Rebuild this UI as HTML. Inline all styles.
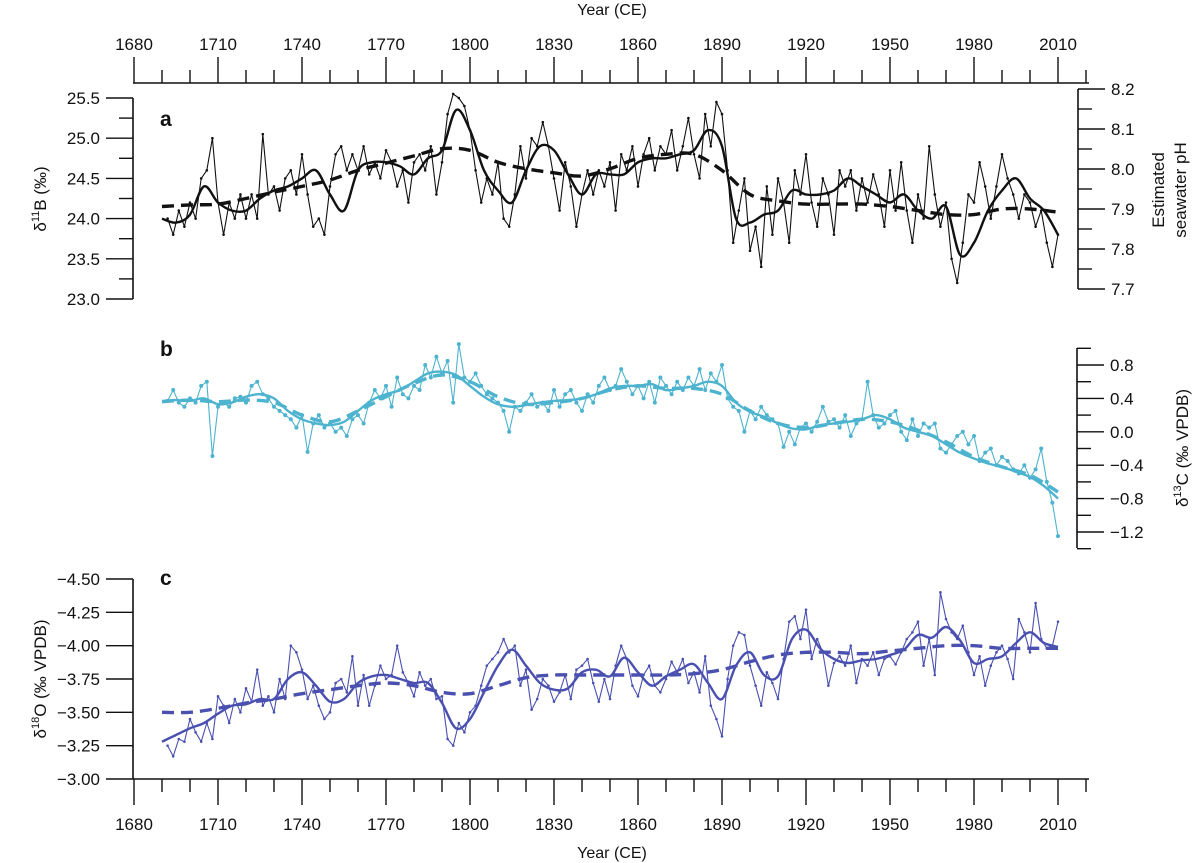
<!DOCTYPE html>
<html><head><meta charset="utf-8"><style>
html,body{margin:0;padding:0;background:#fff}
svg{display:block;font-family:"Liberation Sans",Arial,sans-serif}
</style></head><body>
<svg id="chart" width="1200" height="863" viewBox="0 0 1200 863" xmlns="http://www.w3.org/2000/svg"></svg>
<script>
// ---- data ----
const rawStartYear = 1692;
const rawStepYears = 2;
const smoothStartYear = 1690;
const smoothStepYears = 5;
const trendStartYear = 1690;
const trendStepYears = 10;
const xTickYears = [1680,1710,1740,1770,1800,1830,1860,1890,1920,1950,1980,2010];

const boronRaw = [24.0,23.8,24.1,23.9,24.2,24.0,24.5,24.6,25.0,24.2,23.8,24.2,24.0,24.3,24.0,24.3,24.0,25.05,24.3,24.4,24.1,24.5,24.6,24.3,24.8,24.3,23.9,24.0,23.8,24.4,24.8,24.9,24.6,24.8,24.6,24.9,24.55,24.7,24.5,24.85,24.7,24.4,24.6,24.2,24.7,24.8,24.6,24.9,24.3,24.7,25.3,25.55,25.5,25.4,25.1,24.6,24.2,24.5,24.3,24.7,24.0,23.9,24.3,24.9,24.5,25.0,24.9,25.2,24.9,24.5,24.1,24.7,24.4,23.9,24.3,24.6,24.3,24.6,24.4,24.7,24.1,24.8,24.6,24.9,24.4,24.8,25.0,24.6,24.9,24.8,25.1,24.6,24.9,25.25,24.8,24.5,25.3,24.9,25.45,25.3,24.6,23.7,24.1,24.5,23.6,23.9,23.4,24.4,23.8,24.5,24.2,23.7,24.6,24.3,24.8,24.2,23.9,24.5,24.3,23.8,24.6,24.4,24.6,24.1,24.5,24.2,24.55,24.3,23.9,24.6,24.1,24.7,24.1,23.7,24.3,24.0,24.9,24.3,23.9,24.2,23.5,23.2,23.7,24.3,24.2,24.7,24.4,24.0,24.4,24.8,24.5,24.3,24.0,24.3,24.2,23.9,24.1,23.7,23.4,23.8];
const boronSmooth = [24.0,23.95,24.05,24.4,24.2,24.1,24.1,24.25,24.35,24.4,24.5,24.6,24.3,24.1,24.6,24.7,24.7,24.65,24.55,24.75,24.85,25.35,25.1,24.6,24.35,24.2,24.6,24.9,24.85,24.55,24.3,24.55,24.55,24.55,24.7,24.75,24.75,24.8,24.85,25.1,24.9,24.0,23.95,24.05,24.1,24.35,24.3,24.3,24.35,24.5,24.4,24.3,24.2,24.3,24.1,24.0,24.15,23.55,23.7,24.1,24.35,24.5,24.25,24.1,23.8];
const boronTrend = [24.15,24.17,24.18,24.25,24.33,24.4,24.48,24.6,24.69,24.78,24.87,24.85,24.7,24.62,24.57,24.53,24.62,24.75,24.8,24.8,24.6,24.3,24.22,24.18,24.18,24.18,24.15,24.1,24.05,24.05,24.12,24.12,24.08];

const carbonRaw = [0.37,0.5,0.35,0.3,0.4,0.35,0.55,0.6,-0.29,0.3,
0.35,0.3,0.4,0.42,0.35,0.55,0.6,0.45,0.4,0.3,
0.25,0.2,0.15,0.05,0.2,-0.24,0.1,0.2,0.05,0.1,
0.0,0.05,-0.05,0.15,0.2,0.1,0.35,0.5,0.4,0.55,
0.3,0.65,0.45,0.4,0.55,0.5,0.8,0.65,0.9,0.7,
0.85,0.35,1.05,0.65,0.6,0.7,0.55,0.45,0.4,0.35,
0.25,0.0,0.3,0.25,0.35,0.45,0.3,0.35,0.25,0.5,
0.3,0.45,0.5,0.35,0.25,0.45,0.35,0.55,0.65,0.5,
0.55,0.75,0.6,0.45,0.55,0.4,0.6,0.35,0.65,0.55,
0.45,0.6,0.5,0.65,0.55,0.75,0.5,0.7,0.6,0.8,
0.4,0.3,0.25,0.0,0.25,0.15,0.3,0.2,0.15,0.1,
-0.18,0.0,-0.15,0.05,0.1,0.0,0.12,0.3,0.12,0.15,
0.05,0.2,-0.05,0.1,0.15,0.6,0.2,0.05,0.1,0.2,
0.25,0.0,-0.1,0.15,-0.05,0.1,0.05,0.1,-0.2,-0.25,
-0.15,-0.05,0.0,-0.15,-0.05,-0.35,-0.25,-0.2,-0.4,-0.3,
-0.35,-0.45,-0.5,-0.4,-0.55,-0.45,-0.2,-0.6,-0.85,-1.25];
const carbonSmooth = [0.37,0.38,0.37,0.4,0.33,0.35,0.42,0.45,0.4,0.25,0.15,0.1,0.08,0.12,0.25,0.38,0.45,0.5,0.6,0.7,0.72,0.68,0.55,0.42,0.33,0.3,0.32,0.35,0.37,0.38,0.4,0.45,0.52,0.55,0.55,0.57,0.5,0.52,0.55,0.6,0.55,0.35,0.24,0.18,0.1,0.04,0.03,0.08,0.1,0.12,0.15,0.2,0.15,0.05,0.0,-0.05,-0.15,-0.25,-0.32,-0.38,-0.42,-0.48,-0.54,-0.65,-0.8];
const carbonTrend = [0.36,0.38,0.36,0.38,0.35,0.2,0.12,0.25,0.42,0.58,0.68,0.6,0.42,0.33,0.35,0.4,0.5,0.55,0.52,0.52,0.45,0.25,0.1,0.05,0.1,0.15,0.12,0.02,-0.12,-0.3,-0.42,-0.52,-0.72];

const oxygenRaw = [-3.25,-3.17,-3.3,-3.28,-3.45,-3.35,-3.28,-3.42,-3.3,-3.62,
-3.55,-3.42,-3.6,-3.5,-3.68,-3.58,-3.82,-3.55,-3.62,-3.5,
-3.75,-3.6,-4.0,-3.95,-3.82,-3.6,-3.7,-3.55,-3.45,-3.5,
-3.72,-3.75,-3.65,-3.92,-3.55,-3.78,-3.55,-3.7,-3.85,-3.75,
-3.78,-4.0,-3.8,-3.72,-3.62,-3.8,-3.7,-3.75,-3.6,-3.62,
-3.3,-3.25,-3.42,-3.35,-3.5,-3.55,-3.7,-3.85,-3.9,-3.95,
-4.05,-3.95,-4.0,-3.7,-3.82,-3.52,-3.6,-3.75,-3.7,-3.58,
-3.65,-3.78,-3.6,-3.82,-3.85,-3.9,-3.72,-3.58,-3.75,-3.6,
-3.85,-4.0,-3.9,-3.7,-3.62,-3.78,-3.85,-3.7,-3.65,-3.75,
-3.88,-3.8,-3.9,-3.72,-3.8,-3.65,-3.92,-3.55,-3.45,-3.32,
-3.75,-4.0,-4.1,-4.08,-3.85,-3.7,-3.55,-3.8,-3.72,-3.6,
-3.9,-4.18,-4.22,-4.05,-4.27,-3.9,-4.05,-3.95,-3.7,-3.87,
-3.92,-3.85,-4.0,-3.72,-3.9,-3.85,-3.95,-3.78,-3.9,-3.92,
-3.86,-3.95,-4.05,-4.1,-4.18,-3.85,-4.05,-3.78,-4.4,-4.2,
-4.1,-4.05,-4.15,-3.95,-3.78,-3.92,-3.7,-3.85,-3.95,-4.0,
-3.9,-3.75,-4.2,-4.1,-3.95,-4.32,-4.05,-3.98,-4.0,-4.18];
const oxygenSmooth = [-3.28,-3.33,-3.38,-3.42,-3.49,-3.55,-3.56,-3.6,-3.6,-3.75,-3.8,-3.7,-3.58,-3.6,-3.72,-3.77,-3.78,-3.75,-3.72,-3.72,-3.57,-3.38,-3.45,-3.65,-3.85,-3.97,-3.85,-3.72,-3.67,-3.68,-3.8,-3.82,-3.77,-3.91,-3.8,-3.7,-3.77,-3.82,-3.86,-3.72,-3.6,-3.85,-3.95,-3.78,-3.77,-4.05,-4.12,-3.98,-3.9,-3.87,-3.89,-3.9,-3.93,-3.97,-4.08,-4.06,-4.14,-4.04,-3.87,-3.9,-3.92,-4.02,-4.1,-4.02,-3.99];
const oxygenTrend = [-3.5,-3.5,-3.53,-3.57,-3.6,-3.64,-3.67,-3.7,-3.72,-3.7,-3.65,-3.64,-3.7,-3.76,-3.78,-3.78,-3.78,-3.78,-3.78,-3.79,-3.82,-3.88,-3.93,-3.95,-3.95,-3.94,-3.96,-3.98,-4.0,-4.0,-3.98,-3.98,-3.98];

const boronTicks = ["23.0","23.5","24.0","24.5","25.0","25.5"];
const phTicks = ["7.7","7.8","7.9","8.0","8.1","8.2"];
const carbonTicks = ["\u22121.2","\u22120.8","\u22120.4","0.0","0.4","0.8"];
const oxygenTicks = ["\u22123.00","\u22123.25","\u22123.50","\u22123.75","\u22124.00","\u22124.25","\u22124.50"];

// ---- scales ----
const NS = "http://www.w3.org/2000/svg";
const svg = document.getElementById('chart');
const X = yr => 134 + (yr - 1680) * 2.8;
const yA = v => 98 + (25.5 - v) * 80.4;
const yPH = v => 89 + (8.2 - v) * 400;
const yB = v => 365 + (0.8 - v) * 83.5;
const yC = v => 579 + (v + 4.5) * 133.33;

function el(tag, attrs, parent) {
  const e = document.createElementNS(NS, tag);
  for (const k in attrs) e.setAttribute(k, attrs[k]);
  (parent || svg).appendChild(e);
  return e;
}
function txt(s, x, y, size, anchor, parent, extra) {
  const t = el('text', Object.assign({x: x, y: y, 'font-size': size, 'text-anchor': anchor, fill: '#111'}, extra || {}), parent);
  t.textContent = s;
  return t;
}

// ---- x axes ----
const gTop = el('g', {});


const gBot = el('g', {});


el('line', {x1: 133, y1: 83, x2: 1089, y2: 83, stroke: '#111', 'stroke-width': 1.6}, gTop);
el('line', {x1: 133, y1: 779, x2: 1089, y2: 779, stroke: '#111', 'stroke-width': 1.6}, gBot);
for (let yr = 1680; yr <= 2020; yr += 10) {
  const major = (yr - 1680) % 30 === 0;
  el('line', {x1: X(yr), y1: 83, x2: X(yr), y2: major ? 57 : 70, stroke: '#111', 'stroke-width': 1.4}, gTop);
  el('line', {x1: X(yr), y1: 779, x2: X(yr), y2: major ? 805 : 792, stroke: '#111', 'stroke-width': 1.4}, gBot);
}
xTickYears.forEach(yr => {
  txt(String(yr), X(yr), 50, 17, 'middle', gTop);
  txt(String(yr), X(yr), 830, 17, 'middle', gBot);
});
const tt = txt('Year (CE)', 612, 15, 16, 'middle', svg);


const bt = txt('Year (CE)', 612, 858, 16, 'middle', svg);



// ---- y axes ----
function yAxis(name, x, top, bottom, ticks, scale, vals, minorVals, dir) {
  const g = el('g', {});
  
  
  el('line', {x1: x, y1: top, x2: x, y2: bottom, stroke: '#111', 'stroke-width': 1.6}, g);
  vals.forEach((v, i) => {
    const y = scale(v);
    el('line', {x1: x, y1: y, x2: x + dir * 27, y2: y, stroke: '#111', 'stroke-width': 1.4}, g);
    txt(ticks[i], x + dir * 33, y + 6, 17, dir < 0 ? 'end' : 'start', g);
  });
  minorVals.forEach(v => {
    const y = scale(v);
    el('line', {x1: x, y1: y, x2: x + dir * 14, y2: y, stroke: '#111', 'stroke-width': 1.4}, g);
  });
}
yAxis('boron-y-axis', 133, 98, 299, boronTicks, yA, [23.0,23.5,24.0,24.5,25.0,25.5], [23.25,23.75,24.25,24.75,25.25], -1);
yAxis('ph-y-axis', 1078, 89, 289, phTicks, yPH, [7.7,7.8,7.9,8.0,8.1,8.2], [7.75,7.85,7.95,8.05,8.15], 1);
yAxis('carbon-y-axis', 1077, 348, 548, carbonTicks, yB, [-1.2,-0.8,-0.4,0.0,0.4,0.8], [-1.4,-1.0,-0.6,-0.2,0.2,0.6,1.0], 1);
yAxis('oxygen-y-axis', 133, 579, 779, oxygenTicks, yC, [-3.0,-3.25,-3.5,-3.75,-4.0,-4.25,-4.5], [], -1);

// axis titles
function rotTitle(name, x, y, parts) {
  const t = el('text', {x: x, y: y, 'font-size': 17, 'text-anchor': 'middle', fill: '#111', transform: 'rotate(-90 ' + x + ' ' + y + ')'});
  
  
  parts.forEach(p => {
    const s = el('tspan', p.sup ? {'font-size': 11, dy: -7} : (p.down ? {dy: 7} : {}), t);
    s.textContent = p.t;
  });
}
rotTitle('boron-y-axis-title', 46, 199, [{t: '\u03b4'}, {t: '11', sup: true}, {t: 'B (\u2030)', down: true}]);
rotTitle('oxygen-y-axis-title', 46, 679, [{t: '\u03b4'}, {t: '18', sup: true}, {t: 'O (\u2030 VPDB)', down: true}]);
rotTitle('carbon-y-axis-title', 1188, 448, [{t: '\u03b4'}, {t: '13', sup: true}, {t: 'C (\u2030 VPDB)', down: true}]);
rotTitle('ph-y-axis-title-line1', 1164, 190, [{t: 'Estimated'}]);
rotTitle('ph-y-axis-title-line2', 1186, 190, [{t: 'seawater pH'}]);

// panel labels
[['a', 126], ['b', 356], ['c', 585]].forEach(p => {
  const t = txt(p[0], 160, p[1], 21, 'start', svg, {'font-weight': 'bold'});
  
  
});

// ---- series ----
function path(vals, start, step, scale) {
  return vals.map((v, i) => (i ? 'L' : 'M') + X(start + i * step).toFixed(1) + ' ' + scale(v).toFixed(1)).join(' ');
}
function curve(vals, start, step, scale) {
  const p = vals.map((v, i) => [X(start + i * step), scale(v)]);
  let d = 'M' + p[0][0].toFixed(1) + ' ' + p[0][1].toFixed(1);
  for (let i = 0; i < p.length - 1; i++) {
    const p0 = p[Math.max(0, i - 1)], p1 = p[i], p2 = p[i + 1], p3 = p[Math.min(p.length - 1, i + 2)];
    const c1x = p1[0] + (p2[0] - p0[0]) / 6, c1y = p1[1] + (p2[1] - p0[1]) / 6;
    const c2x = p2[0] - (p3[0] - p1[0]) / 6, c2y = p2[1] - (p3[1] - p1[1]) / 6;
    d += ' C' + c1x.toFixed(1) + ' ' + c1y.toFixed(1) + ' ' + c2x.toFixed(1) + ' ' + c2y.toFixed(1) + ' ' + p2[0].toFixed(1) + ' ' + p2[1].toFixed(1);
  }
  return d;
}
function series(prefix, raw, smooth, trend, scale, color, dotR) {
  const g = el('g', {});
  
  
  const r = el('path', {d: path(raw, rawStartYear, rawStepYears, scale), fill: 'none', stroke: color, 'stroke-width': 1.1, 'stroke-linejoin': 'round'}, g);
  
  
  raw.forEach((v, i) => {
    const c = el('circle', {cx: X(rawStartYear + i * rawStepYears), cy: scale(v), r: dotR, fill: color}, g);
    
    
  });
  const s = el('path', {d: curve(smooth, smoothStartYear, smoothStepYears, scale), fill: 'none', stroke: color, 'stroke-width': 2.4, 'stroke-linejoin': 'round'}, g);
  
  
  const t = el('path', {d: curve(trend, trendStartYear, trendStepYears, scale), fill: 'none', stroke: color, 'stroke-width': 3.4, 'stroke-dasharray': '12 7'}, g);
  
  
}
series('boron', boronRaw, boronSmooth, boronTrend, yA, '#111', 1.3);
series('carbon', carbonRaw, carbonSmooth, carbonTrend, yB, '#4db3cf', 2.0);
series('oxygen', oxygenRaw, oxygenSmooth, oxygenTrend, yC, '#4a50b0', 1.3);
</script>
</body></html>
